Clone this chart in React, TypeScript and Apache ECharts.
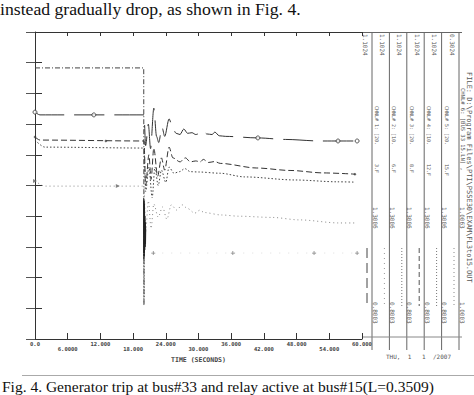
import React, { useEffect, useRef } from "react";
import * as echarts from "echarts";

// ---- axis tick labels ----
const xTickLabels = ["0.0", "6.0000", "12.000", "18.000", "24.000", "30.000", "36.000", "42.000", "48.000", "54.000", "60.000"];

// ---- channel curves [time (s), scaled value] ----
const curveA: [number, number][] = [
  [0, 7.39], [0.9, 7.3], [20.0, 7.3], [20.3, 6.3], [20.8, 7.0], [21.2, 6.2], [21.8, 7.52], [22.3, 6.6], [22.7, 6.4],
  [23.3, 6.9], [23.8, 6.6], [24.6, 7.17], [25.3, 6.85], [25.9, 6.7], [26.6, 6.66], [27.3, 6.84], [28.0, 6.7],
  [28.8, 6.72], [29.5, 6.66], [30.3, 6.7], [30.9, 6.78], [31.5, 6.68], [32.5, 6.66], [33.0, 6.74], [33.8, 6.62],
  [35, 6.6], [40.9, 6.55], [46, 6.5], [52.3, 6.45], [56, 6.45], [59.1, 6.45],
];
const curveB: [number, number][] = [
  [0, 6.58], [0.9, 6.48], [20.0, 6.45], [20.3, 5.0], [20.9, 6.0], [21.3, 5.2], [21.8, 6.22], [22.5, 5.3], [23.2, 5.9],
  [23.8, 5.5], [24.6, 6.25], [25.3, 5.9], [26.6, 5.77], [27.6, 5.9], [28.5, 5.77], [29.5, 5.8], [30.3, 5.77],
  [30.9, 5.85], [31.8, 5.75], [33, 5.78], [34, 5.72], [40.7, 5.57], [46.8, 5.49], [52.9, 5.41], [58.7, 5.37],
];
const curveC: [number, number][] = [
  [0, 6.48], [1.8, 6.25], [20.0, 6.22], [20.3, 4.8], [20.9, 5.6], [21.5, 4.6], [22.0, 5.6], [22.6, 5.0], [23.2, 5.5],
  [24.0, 5.1], [24.6, 5.6], [25.5, 5.4], [26.5, 5.45], [27.5, 5.55], [28.5, 5.45], [30, 5.44], [33.9, 5.4],
  [38.5, 5.28], [47.7, 5.18], [55.5, 5.12], [58.7, 5.11],
];
const curveD: [number, number][] = [
  [0, 5.15], [1.8, 4.98], [20.0, 4.98], [20.3, 3.5], [20.8, 4.5], [21.3, 3.6], [21.8, 4.4], [22.6, 3.97], [23.4, 4.3],
  [24.2, 3.9], [25.0, 4.37], [26.0, 4.2], [27.0, 4.37], [28.0, 4.25], [29.3, 4.1], [30.3, 4.2], [31.0, 4.12],
  [34.2, 4.04], [37.4, 4.0], [43.5, 3.96], [48.5, 3.88], [55.8, 3.78], [58.7, 3.78],
];
const curveE: [number, number][] = [[0, 8.83], [19.95, 8.83], [20.0, 1.1]];
const curveE2: [number, number][] = [[21.7, 2.8], [36.3, 2.8], [51.2, 2.8], [59.1, 2.8]];
const spikeBandUpper: [number, number][] = [
  [19.95, 4.6], [19.98, 2.6], [20.0, 4.5], [20.03, 2.7], [20.05, 4.4], [20.08, 2.8], [20.1, 4.2], [20.13, 2.9],
  [20.16, 4.0], [20.2, 3.0], [20.24, 3.8], [20.28, 3.1], [20.32, 3.6],
];
const spikeBandLower: [number, number][] = [[19.97, 2.8], [19.98, 1.1], [20.02, 2.6], [20.05, 1.3]];

// ---- channel symbols ----
const markersA: [number, number][] = [[0, 7.39], [10.8, 7.3], [40.9, 6.55], [55.6, 6.45], [59.1, 6.45]];
const markersB: [number, number][] = [[0, 6.58], [13.0, 6.45], [58.7, 5.37]];
const markersD: [number, number][] = [[0, 5.15], [15.2, 4.98]];

// ---- legend panel texts ----
const legendTop = ["1.1024", "1.1024", "1.1024", "1.1024", "1.1024", "0.3024"];
const legendChannels = ["CHNL# 1: [20.", "CHNL# 2: [10.", "CHNL# 3: [20.", "CHNL# 4: [10.", "CHNL# 5: [20."];
const legendUnits = ["3.F", "6.F", "8.F", "12.F", "15.F"];
const legendMax = ["1.3006", "1.3006", "1.3006", "1.3006", "1.3006", "1.0063"];
const legendMin = ["0.8003", "0.8003", "0.8003", "0.8003", "0.8003", "1.0003"];
const fileLine = "FILE: D:\\Program Files\\PTI\\PSSE30\\EXAM\\FL3to15.OUT";
const fileSub = "CHNL# 6: [BUS 33 15.LN] ,";
const dateText = "THU,  1   1  /2007";
const topCaption = "instead gradually drop, as shown in Fig. 4.";
const bottomCaption = "Fig. 4. Generator trip at bus#33 and relay active at bus#15(L=0.3509)";

const PLUS = "path://M4,0H6V4H10V6H6V10H4V6H0V4H4Z";
const MONO = "DejaVu Sans Mono";
const INK = "#333";

export default function App() {
  const ref = useRef<HTMLDivElement>(null);
  useEffect(() => {
    if (!ref.current) return;
    const chart = echarts.init(ref.current, undefined, { renderer: "svg" });

    const colX = [372, 389.4, 406.8, 424.2, 441.6, 459];
    const sampleDash: any[] = [[10, 5], [1, 4], [1, 2], [5, 3], [1, 2], [1, 3]];
    const sampleColor = ["#444", "#999", "#777", "#555", "#777", "#888"];
    const graphic: any[] = [];
    const rtext = (x: number, y: number, text: string, size: number) => ({
      type: "text", x, y, rotation: -Math.PI / 2,
      style: { text, fontSize: size, fontFamily: MONO, fill: "#555", align: "left", verticalAlign: "middle" },
    });
    colX.forEach((cx, k) => {
      graphic.push({ type: "line", shape: { x1: cx, y1: 32, x2: cx, y2: 350 }, style: { stroke: "#666", lineWidth: 1 } });
      graphic.push(rtext(cx - 7, 34, legendTop[k], 6));
      if (k < 5) {
        graphic.push(rtext(cx + 5, 106, legendChannels[k], 5));
        graphic.push(rtext(cx + 5, 164, legendUnits[k], 5));
      }
      graphic.push(rtext(cx + 3, 207, legendMax[k], 6));
      graphic.push(rtext(cx + 3, 302, legendMin[k], 6));
      graphic.push({
        type: "line", shape: { x1: cx - 5, y1: 248, x2: cx - 5, y2: 306 },
        style: { stroke: sampleColor[k], lineWidth: 1, lineDash: sampleDash[k] },
      });
    });
    graphic.push({ type: "line", shape: { x1: 362, y1: 32.5, x2: 462, y2: 32.5 }, style: { stroke: "#666", lineWidth: 1 } });
    graphic.push({ type: "line", shape: { x1: 362, y1: 337, x2: 462, y2: 337 }, style: { stroke: "#888", lineWidth: 1 } });
    graphic.push(rtext(469, 72, fileLine, 7));
    graphic.push(rtext(462.5, 88, fileSub, 5.5));
    graphic.push({ type: "text", x: 386, y: 356, style: { text: dateText, fontSize: 6, fontFamily: MONO, fill: "#555", verticalAlign: "middle" } });
    graphic.push({ type: "line", shape: { x1: 22, y1: 375.5, x2: 474, y2: 375.5 }, style: { stroke: "#aaa", lineWidth: 1 } });
    graphic.push({ type: "text", x: 0, y: 0.5, style: { text: topCaption, fontSize: 17.7, lineHeight: 17, fontFamily: "Liberation Serif", fill: "#111", verticalAlign: "top" } });
    graphic.push({ type: "text", x: 2, y: 386.5, style: { text: bottomCaption, fontSize: 15.5, fontFamily: "Liberation Serif", fill: "#111", verticalAlign: "middle" } });

    const labelStyle = { fontSize: 5.5, fontFamily: MONO, color: "#444", fontWeight: "bold" as const };
    const line = (data: any, color: string, type: any, smooth = 0, width = 1) => ({
      type: "line", data, symbol: "none", smooth, smoothMonotone: "x", lineStyle: { color, width, type }, z: 3,
    });

    chart.setOption({
      animation: false,
      backgroundColor: "#fff",
      grid: { left: 35, right: 112, top: 32, bottom: 56 },
      xAxis: [
        {
          type: "value", min: 0, max: 60, interval: 6, position: "bottom",
          axisLine: { show: true, lineStyle: { color: INK, width: 1 } },
          axisTick: { show: true, inside: true, length: 6, lineStyle: { color: INK } },
          splitLine: { show: false },
          axisLabel: {
            ...labelStyle, margin: 2, hideOverlap: false, showMinLabel: true, showMaxLabel: true,
            formatter: (v: number) => { const i = Math.round(v / 6); return i % 2 === 0 ? xTickLabels[i] : ""; },
          },
        },
        {
          type: "value", min: 0, max: 60, interval: 6, position: "bottom", offset: 0,
          axisLine: { show: false }, axisTick: { show: false }, splitLine: { show: false },
          axisLabel: {
            ...labelStyle, margin: 7, hideOverlap: false, showMinLabel: true, showMaxLabel: true,
            formatter: (v: number) => { const i = Math.round(v / 6); return i % 2 === 1 ? xTickLabels[i] : ""; },
          },
          name: "TIME (SECONDS)", nameLocation: "middle", nameGap: 17,
          nameTextStyle: { fontSize: 6.5, fontFamily: MONO, color: "#444", fontWeight: "bold" },
        },
        {
          type: "value", min: 0, max: 60, interval: 6, position: "top",
          axisLine: { show: true, lineStyle: { color: INK, width: 1 } },
          axisTick: { show: true, inside: true, length: 4, lineStyle: { color: INK } },
          axisLabel: { show: false }, splitLine: { show: false },
        },
      ],
      yAxis: [
        {
          type: "value", min: 0, max: 10, interval: 1, position: "left",
          axisLine: { show: true, lineStyle: { color: INK, width: 1 } },
          axisTick: { show: true, inside: true, length: 7, lineStyle: { color: INK } },
          axisLabel: { show: false }, splitLine: { show: false },
        },
        {
          type: "value", min: 0, max: 10, interval: 1, position: "right",
          axisLine: { show: false },
          axisTick: { show: true, inside: true, length: 9, lineStyle: { color: "#555" } },
          axisLabel: { show: false }, splitLine: { show: false },
        },
      ],
      series: [
        line(curveE, "#444", [5, 2, 1, 2]),
        line(curveA, "#333", [30, 10], 0.3),
        line(curveB, "#333", [6, 3], 0.3),
        line(curveC, "#444", [1.5, 2], 0.3),
        line(curveD, "#888", [1, 3], 0.3),
        line(curveE2, "#ddd", [1, 8]),
        line(spikeBandUpper, "#222", "solid"),
        line(spikeBandLower, "#666", [1, 2]),
        {
          type: "scatter", data: markersA, symbol: "circle", symbolSize: 4, z: 4,
          itemStyle: { color: "#fff", borderColor: "#333", borderWidth: 1 },
        },
        { type: "scatter", data: markersB, symbol: "diamond", symbolSize: 3, z: 4, itemStyle: { color: "#333" } },
        { type: "scatter", data: markersD, symbol: "triangle", symbolRotate: -90, symbolSize: 4, z: 4, itemStyle: { color: "#666" } },
        { type: "scatter", data: curveE2, symbol: PLUS, symbolSize: 4, z: 4, itemStyle: { color: "#666" } },
      ],
      graphic,
    });
    return () => chart.dispose();
  }, []);
  return <div ref={ref} style={{ position: "fixed", left: 0, top: 0, width: 474, height: 395, background: "#fff" }} />;
}
